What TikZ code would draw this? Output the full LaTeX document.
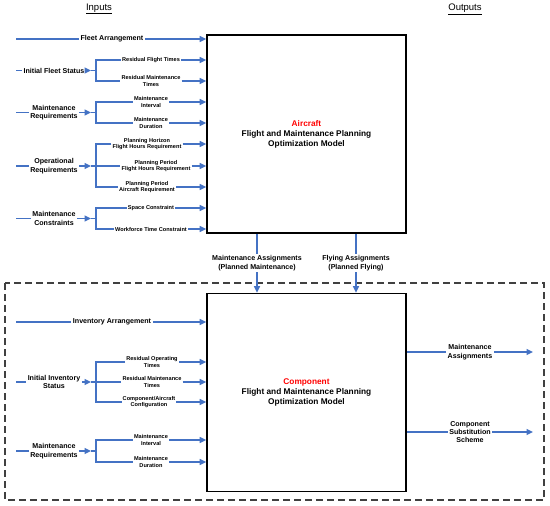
\documentclass[tikz,border=0pt]{standalone}
\usepackage{fontspec}
\setmainfont{Liberation Sans}
\usetikzlibrary{arrows.meta}
\definecolor{flowblue}{RGB}{68,114,196}
\tikzstyle{model}=[draw, line width=1.6pt, minimum width=199pt, minimum height=198pt, align=center, font=\bfseries\fontsize{8.3}{10}\selectfont]
\tikzstyle{group}=[align=center, inner sep=1.5pt, font=\bfseries\fontsize{7.1}{8.4}\selectfont]
\tikzstyle{branch}=[align=center, inner sep=1pt, font=\bfseries\fontsize{5.6}{6.7}\selectfont]
\tikzstyle{flow}=[draw=flowblue, line width=1.5pt]
\tikzstyle{arr}=[flow, -{Triangle[length=6.5pt,width=6pt]}]
\tikzstyle{title}=[font=\fontsize{9.5}{11}\selectfont]

\begin{document}
\begin{tikzpicture}[x=1pt, y=-1pt]
  \useasboundingbox (0,0) rectangle (550,506);
  \node[title] (intitle) at (99,9) {\underline{Inputs}};
  \node[title] (outtitle) at (465,9) {\underline{Outputs}};

  % aircraft level
  \node[model] (air) at (306.5,134) {\textcolor{red}{Aircraft}\\Flight and Maintenance Planning\\Optimization Model};

  \coordinate (fa0) at (16,39);
  \node[group] (fa) at (112,39) {Fleet Arrangement};
  \draw[flow] (fa0) -- (fa);
  \draw[arr] (fa) -- (fa -| air.west);

  \coordinate (ifs0) at (16,70.5);
  \coordinate (ifsf) at (96,70.5);
  \node[group] (ifs) at (54,70.5) {Initial Fleet Status};
  \node[branch] (rft) at (151,60) {Residual Flight Times};
  \node[branch] (rmt) at (151,81) {Residual Maintenance\\Times};
  \draw[flow] (ifs0) -- (ifs);
  \draw[arr] (ifs) -- ([xshift=-5pt]ifsf);
  \draw[flow] ([xshift=-5pt]ifsf) -- (ifsf);
  \draw[flow] (rft) -| (ifsf) |- (rmt);
  \draw[arr] (rft) -- (rft -| air.west);
  \draw[arr] (rmt) -- (rmt -| air.west);

  \coordinate (mr0) at (16,112.5);
  \coordinate (mrf) at (96,112.5);
  \node[group] (mr) at (54,112.5) {Maintenance\\Requirements};
  \node[branch] (mi) at (151,102) {Maintenance\\Interval};
  \node[branch] (md) at (151,123) {Maintenance\\Duration};
  \draw[flow] (mr0) -- (mr);
  \draw[arr] (mr) -- ([xshift=-5pt]mrf);
  \draw[flow] ([xshift=-5pt]mrf) -- (mrf);
  \draw[flow] (mi) -| (mrf) |- (md);
  \draw[arr] (mi) -- (mi -| air.west);
  \draw[arr] (md) -- (md -| air.west);

  \coordinate (or0) at (16,166);
  \coordinate (orf) at (96,166);
  \node[group] (or) at (54,166) {Operational\\Requirements};
  \node[branch] (phf) at (147,144) {Planning Horizon\\Flight Hours Requirement};
  \node[branch] (ppf) at (156,166) {Planning Period\\Flight Hours Requirement};
  \node[branch] (ppa) at (147,187) {Planning Period\\Aircraft Requirement};
  \draw[flow] (or0) -- (or);
  \draw[arr] (or) -- ([xshift=-5pt]orf);
  \draw[flow] ([xshift=-5pt]orf) -- (orf);
  \draw[flow] (phf) -| (orf) |- (ppa);
  \draw[flow] (orf) -- (ppf);
  \draw[arr] (phf) -- (phf -| air.west);
  \draw[arr] (ppf) -- (ppf -| air.west);
  \draw[arr] (ppa) -- (ppa -| air.west);

  \coordinate (mc0) at (16,218.5);
  \coordinate (mcf) at (96,218.5);
  \node[group] (mc) at (54,218.5) {Maintenance\\Constraints};
  \node[branch] (sc) at (151,208) {Space Constraint};
  \node[branch] (wtc) at (151,229) {Workforce Time Constraint};
  \draw[flow] (mc0) -- (mc);
  \draw[arr] (mc) -- ([xshift=-5pt]mcf);
  \draw[flow] ([xshift=-5pt]mcf) -- (mcf);
  \draw[flow] (sc) -| (mcf) |- (wtc);
  \draw[arr] (sc) -- (sc -| air.west);
  \draw[arr] (wtc) -- (wtc -| air.west);

  % component level
  \draw[dash pattern=on 7pt off 4pt, line width=1.3pt, black!75] (5,283) rectangle (544,500);
  \node[model] (comp) at (306.5,392.5) {\textcolor{red}{Component}\\Flight and Maintenance Planning\\Optimization Model};

  \node[group] (mal) at (257,263) {Maintenance Assignments\\(Planned Maintenance)};
  \node[group] (fal) at (356,263) {Flying Assignments\\(Planned Flying)};
  \draw[flow] (mal |- air.south) -- (mal);
  \draw[arr] (mal) -- (mal |- comp.north);
  \draw[flow] (fal |- air.south) -- (fal);
  \draw[arr] (fal) -- (fal |- comp.north);

  \coordinate (ia0) at (16,322);
  \node[group] (ia) at (112,322) {Inventory Arrangement};
  \draw[flow] (ia0) -- (ia);
  \draw[arr] (ia) -- (ia -| comp.west);

  \coordinate (iis0) at (16,382);
  \coordinate (iisf) at (96,382);
  \node[group] (iis) at (54,382) {Initial Inventory\\Status};
  \node[branch] (rot) at (152,362) {Residual Operating\\Times};
  \node[branch] (rmt2) at (152,382) {Residual Maintenance\\Times};
  \node[branch] (cac) at (149,402) {Component/Aircraft\\Configuration};
  \draw[flow] (iis0) -- (iis);
  \draw[arr] (iis) -- ([xshift=-5pt]iisf);
  \draw[flow] ([xshift=-5pt]iisf) -- (iisf);
  \draw[flow] (rot) -| (iisf) |- (cac);
  \draw[flow] (iisf) -- (rmt2);
  \draw[arr] (rot) -- (rot -| comp.west);
  \draw[arr] (rmt2) -- (rmt2 -| comp.west);
  \draw[arr] (cac) -- (cac -| comp.west);

  \coordinate (mr20) at (16,451);
  \coordinate (mr2f) at (96,451);
  \node[group] (mr2) at (54,451) {Maintenance\\Requirements};
  \node[branch] (mi2) at (151,440) {Maintenance\\Interval};
  \node[branch] (md2) at (151,462) {Maintenance\\Duration};
  \draw[flow] (mr20) -- (mr2);
  \draw[arr] (mr2) -- ([xshift=-5pt]mr2f);
  \draw[flow] ([xshift=-5pt]mr2f) -- (mr2f);
  \draw[flow] (mi2) -| (mr2f) |- (md2);
  \draw[arr] (mi2) -- (mi2 -| comp.west);
  \draw[arr] (md2) -- (md2 -| comp.west);

  % outputs
  \node[group] (moa) at (470,352) {Maintenance\\Assignments};
  \coordinate (moa1) at (533,352);
  \draw[flow] (moa -| comp.east) -- (moa);
  \draw[arr] (moa) -- (moa1);

  \node[group] (css) at (470,432) {Component\\Substitution\\Scheme};
  \coordinate (css1) at (533,432);
  \draw[flow] (css -| comp.east) -- (css);
  \draw[arr] (css) -- (css1);
\end{tikzpicture}
\end{document}
